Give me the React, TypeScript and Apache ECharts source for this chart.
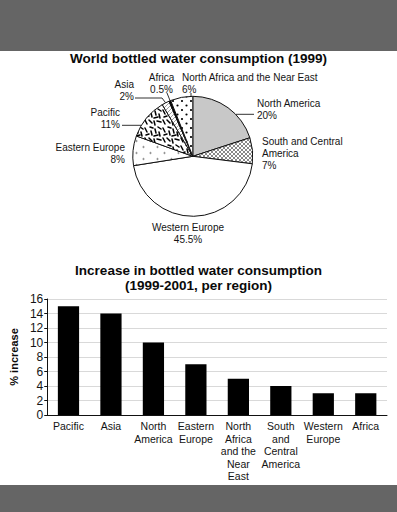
import React, { useEffect, useRef } from 'react';
import * as echarts from 'echarts';

// ---------- data ----------
const pieTitle = 'World bottled water consumption (1999)';
const pieNames = [
  'North America',
  'South and Central America',
  'Western Europe',
  'Eastern Europe',
  'Pacific',
  'Asia',
  'Africa',
  'North Africa and the Near East',
];
const pieLabelNames = [
  'North America',
  'South and Central\nAmerica',
  'Western Europe',
  'Eastern Europe',
  'Pacific',
  'Asia',
  'Africa',
  'North Africa and the Near East',
];
const pieValues = [20, 7, 45.5, 8, 11, 2, 0.5, 6];

const barTitle = 'Increase in bottled water consumption\n(1999-2001, per region)';
const barCategories = [
  'Pacific',
  'Asia',
  'North\nAmerica',
  'Eastern\nEurope',
  'North\nAfrica\nand the\nNear\nEast',
  'South\nand\nCentral\nAmerica',
  'Western\nEurope',
  'Africa',
];
const barValues = [15, 14, 10, 7, 5, 4, 3, 3];
const yAxisName = '% increase';
const yMin = 0;
const yMax = 16;
const yInterval = 2;

// ---------- style ----------
const FONT = "'Liberation Sans', Arial, Helvetica, sans-serif";
const BAND = '#656565';
const TEXT = '#141414';
const PIE_CX = 192.8;
const PIE_CY = 156.3;
const PIE_R = 60;

type Place = { x: number; y: number; align: string; line?: number[][] };
const pieLabelPlacement: Place[] = [
  { x: 257, y: 109, align: 'left', line: [[236, 114.3], [254, 114.3]] },
  { x: 262, y: 153.5, align: 'left' },
  { x: 188, y: 233.3, align: 'center' },
  { x: 125, y: 153, align: 'right' },
  { x: 120, y: 118.5, align: 'right', line: [[122, 125.3], [141, 125.3]] },
  { x: 134, y: 90.5, align: 'right', line: [[135, 98], [162, 98], [165.6, 102.8]] },
  { x: 161.5, y: 83, align: 'center', line: [[167, 93], [170, 100.5]] },
  { x: 182, y: 83, align: 'left', line: [[191, 93], [191, 96.6]] },
];

function makeTile(w: number, h: number, draw: (ctx: CanvasRenderingContext2D) => void) {
  const c = document.createElement('canvas');
  c.width = w;
  c.height = h;
  const ctx = c.getContext('2d') as CanvasRenderingContext2D;
  ctx.fillStyle = '#ffffff';
  ctx.fillRect(0, 0, w, h);
  draw(ctx);
  return { image: c.toDataURL(), repeat: 'repeat', imageWidth: w, imageHeight: h };
}

function buildFills() {
  const gray = '#c8c8c8';
  const cross = makeTile(4, 4, (ctx) => {
    ctx.strokeStyle = '#555';
    ctx.lineWidth = 0.7;
    ctx.beginPath();
    ctx.moveTo(0, 0); ctx.lineTo(4, 4);
    ctx.moveTo(0, 4); ctx.lineTo(4, 0);
    ctx.stroke();
  });
  const white = '#ffffff';
  const plus = makeTile(14, 12, (ctx) => {
    ctx.strokeStyle = '#888';
    ctx.lineWidth = 0.8;
    const pts = [[3.5, 3], [10.5, 9]];
    ctx.beginPath();
    pts.forEach(([x, y]) => {
      ctx.moveTo(x - 1.2, y); ctx.lineTo(x + 1.2, y);
      ctx.moveTo(x, y - 1.2); ctx.lineTo(x, y + 1.2);
    });
    ctx.stroke();
  });
  const worms = makeTile(18, 18, (ctx) => {
    ctx.strokeStyle = '#000';
    ctx.lineWidth = 1.5;
    ctx.lineCap = 'round';
    const segs = [
      [1, 2, 3, 6], [6, 1, 9, 2], [11, 3, 12, 7], [14, 1, 17, 3],
      [2, 9, 5, 8], [7, 5, 8, 9], [10, 10, 14, 9], [15, 6, 16, 10],
      [1, 12, 3, 16], [5, 12, 8, 15], [10, 13, 11, 17], [13, 13, 17, 14],
    ];
    ctx.beginPath();
    segs.forEach(([a, b, c, d]) => { ctx.moveTo(a, b); ctx.lineTo(c, d); });
    ctx.stroke();
  });
  const hatch = makeTile(4, 4, (ctx) => {
    ctx.strokeStyle = '#777';
    ctx.lineWidth = 0.7;
    ctx.beginPath();
    ctx.moveTo(0, 4); ctx.lineTo(4, 0);
    ctx.stroke();
  });
  const black = '#000000';
  const dots = makeTile(9, 9, (ctx) => {
    ctx.fillStyle = '#000';
    ctx.beginPath();
    ctx.arc(2, 2, 1.1, 0, Math.PI * 2);
    ctx.moveTo(7.5, 6.5);
    ctx.arc(6.5, 6.5, 1.1, 0, Math.PI * 2);
    ctx.fill();
  });
  return [gray, cross, white, plus, worms, hatch, black, dots];
}

export default function App() {
  const ref = useRef<HTMLDivElement>(null);

  useEffect(() => {
    if (!ref.current) return;
    const chart = echarts.init(ref.current, undefined, { renderer: 'svg' });
    const fills = buildFills();

    const pieData = pieNames.map((name, i) => ({
      name,
      value: pieValues[i],
      itemStyle: { color: fills[i] as any },
      labelLine: { show: !!pieLabelPlacement[i].line },
    }));

    const option: any = {
      animation: false,
      backgroundColor: '#ffffff',
      textStyle: { fontFamily: FONT },
      graphic: [
        { type: 'rect', silent: true, z: 0, shape: { x: 0, y: 0, width: 397, height: 51 }, style: { fill: BAND } },
        { type: 'rect', silent: true, z: 0, shape: { x: 0, y: 485, width: 397, height: 27 }, style: { fill: BAND } },
      ],
      title: [
        {
          text: pieTitle,
          left: 'center',
          top: 51,
          padding: 0,
          textStyle: { fontSize: 13.5, fontWeight: 'bold', color: '#0a0a0a', fontFamily: FONT },
        },
        {
          text: barTitle,
          left: 'center',
          top: 263.5,
          padding: 0,
          textStyle: { fontSize: 13.5, fontWeight: 'bold', color: '#0a0a0a', lineHeight: 14.7, fontFamily: FONT },
        },
      ],
      grid: { left: 43, right: 10, top: 299, bottom: 97 },
      xAxis: {
        type: 'category',
        data: barCategories,
        axisLine: { lineStyle: { color: '#111', width: 1 } },
        axisTick: { show: false },
        axisLabel: { interval: 0, margin: 5, fontSize: 10.5, lineHeight: 12.5, color: TEXT, fontFamily: FONT },
      },
      yAxis: {
        type: 'value',
        min: yMin,
        max: yMax,
        interval: yInterval,
        name: yAxisName,
        nameLocation: 'middle',
        nameGap: 23,
        nameRotate: 90,
        nameTextStyle: { fontSize: 11, fontWeight: 'bold', color: '#0a0a0a', fontFamily: FONT },
        axisLine: { show: true, lineStyle: { color: '#111' } },
        axisTick: { show: true, length: 3, lineStyle: { color: '#111' } },
        axisLabel: { fontSize: 12, color: TEXT, margin: 4, fontFamily: FONT },
        splitLine: { show: true, lineStyle: { color: '#d9d9d9' } },
      },
      series: [
        {
          type: 'bar',
          data: barValues,
          barWidth: '50%',
          itemStyle: { color: '#000' },
        },
        {
          type: 'pie',
          center: [PIE_CX, PIE_CY],
          radius: PIE_R,
          startAngle: 90,
          clockwise: true,
          avoidLabelOverlap: false,
          emphasis: { disabled: true },
          data: pieData,
          itemStyle: { borderColor: '#111', borderWidth: 1 },
          label: {
            show: true,
            position: 'outside',
            formatter: (p: any) => `${pieLabelNames[p.dataIndex]}\n${p.value}%`,
            fontSize: 10,
            lineHeight: 12,
            color: TEXT,
            fontFamily: FONT,
          },
          labelLine: { show: true, lineStyle: { color: '#333', width: 1 } },
          labelLayout: (params: any) => {
            const p = pieLabelPlacement[params.dataIndex];
            const out: any = { x: p.x, y: p.y, align: p.align, verticalAlign: 'middle' };
            if (p.line) out.labelLinePoints = p.line;
            return out;
          },
        },
      ],
    };

    chart.setOption(option);
    return () => chart.dispose();
  }, []);

  return (
    <div
      ref={ref}
      style={{ position: 'absolute', left: 0, top: 0, width: 397, height: 512, background: '#fff' }}
    />
  );
}
